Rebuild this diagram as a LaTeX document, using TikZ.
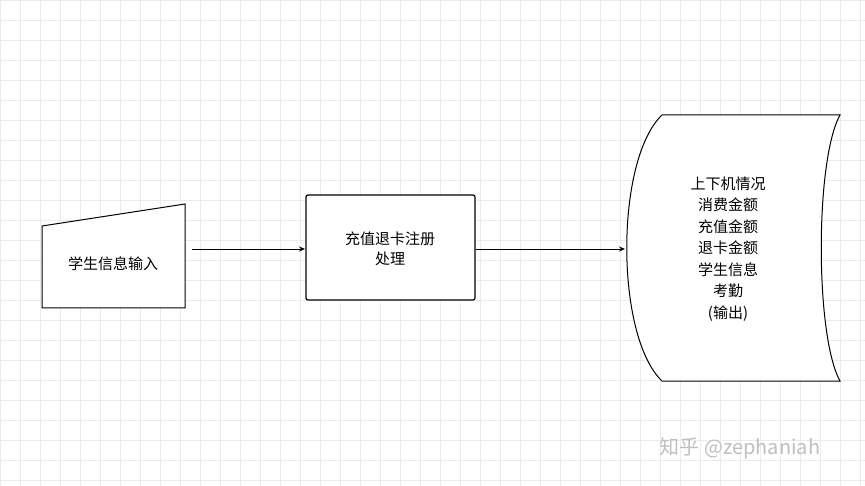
\documentclass[tikz,border=0pt]{standalone}
\usepackage{fontspec}
\newfontfamily\cjk{Noto Sans CJK SC}
\usetikzlibrary{arrows.meta}
\begin{document}
\begin{tikzpicture}[x=1pt,y=-1pt,
  box/.style={draw=black,line width=1pt},
  lbl/.style={font=\cjk\fontsize{15}{20}\selectfont,align=center},
  conn/.style={-{Stealth[length=6pt,width=5pt]},line width=0.6pt}]
\useasboundingbox (0,0) rectangle (865,486);
\fill[white] (0,0) rectangle (865,486);
\foreach \i in {0,...,44}{\draw[black!8,line width=0.4pt] (\i*20,0) -- (\i*20,486);}
\foreach \i in {0,...,25}{\draw[black!8,line width=0.4pt] (0,\i*20) -- (865,\i*20);}
\draw[box,fill=white] (42,226) -- (185,204) -- (185,308) -- (42,308) -- cycle;
\node[lbl] (in) at (113,264) {学生信息输入};
\coordinate (inr) at (192,249);
\draw[box,fill=white,rounded corners=2pt,line width=1.2pt] (306,195) rectangle (475,300);
\node[lbl] (proc) at (390,249) {充值退卡注册\\处理};
\coordinate (procl) at (305,249);
\coordinate (procr) at (476,249);
\draw[box,fill=white] (662,115) -- (840,115) .. controls (815,160) and (815,336) .. (840,381)
  -- (662,381) .. controls (615,336) and (615,160) .. (662,115) -- cycle;
\node[lbl,font=\cjk\fontsize{15}{21.5}\selectfont] (out) at (728,249) {上下机情况\\消费金额\\充值金额\\退卡金额\\学生信息\\考勤\\(输出)};
\coordinate (outl) at (625,249);
\draw[conn] (inr) -- (procl);
\draw[conn] (procr) -- (outl);
\node[font=\cjk\fontsize{20}{24}\selectfont,text=black!25] (wm) at (740,448) {知乎 @zephaniah};
\end{tikzpicture}
\end{document}
